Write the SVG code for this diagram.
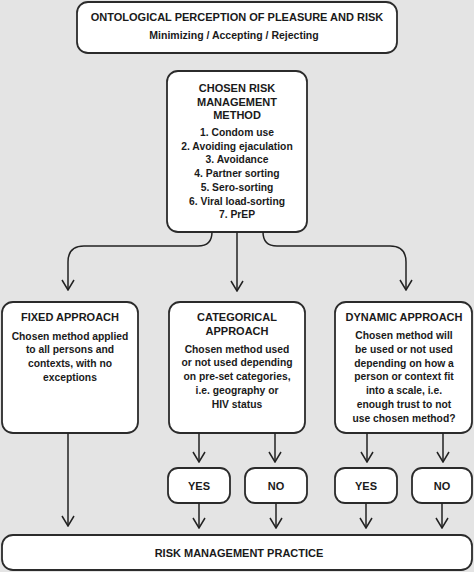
<svg xmlns="http://www.w3.org/2000/svg" width="474" height="572" viewBox="0 0 474 572">
<defs>
<marker id="arr" viewBox="0 0 12 14" refX="11" refY="7" markerWidth="12" markerHeight="14" markerUnits="userSpaceOnUse" orient="auto">
<path d="M1,1 L11,7 L1,13" fill="none" stroke="#222" stroke-width="1.5"/>
</marker>
<style>
.box{fill:#fff;stroke:#2b2b2b;stroke-width:1.8}
.hd{font-family:"Liberation Sans",Arial,sans-serif;font-weight:bold;font-size:11px;fill:#1a1a1a;text-anchor:middle}
.tx{font-family:"Liberation Sans",Arial,sans-serif;font-weight:bold;font-size:10.3px;fill:#1a1a1a;text-anchor:middle}
.ln{fill:none;stroke:#222;stroke-width:1.5;marker-end:url(#arr)}
</style>
</defs>
<rect width="474" height="572" fill="#e4e4e4"/>
<g id="top">
<rect class="box" x="77" y="2" width="320" height="51" rx="11"/>
<text class="hd" x="237" y="21">ONTOLOGICAL PERCEPTION OF PLEASURE AND RISK</text>
<text class="tx" x="234" y="39" style="font-size:10.5px">Minimizing / Accepting / Rejecting</text>
</g>
<g id="method">
<rect class="box" x="167" y="71" width="140" height="161" rx="11"/>
<text class="hd" x="237" y="92">CHOSEN RISK</text>
<text class="hd" x="237" y="105.5">MANAGEMENT</text>
<text class="hd" x="237" y="119">METHOD</text>
<text class="tx" x="237" y="136">1. Condom use</text>
<text class="tx" x="237" y="149.7">2. Avoiding ejaculation</text>
<text class="tx" x="237" y="163.4">3. Avoidance</text>
<text class="tx" x="237" y="177.1">4. Partner sorting</text>
<text class="tx" x="237" y="190.8">5. Sero-sorting</text>
<text class="tx" x="237" y="204.5">6. Viral load-sorting</text>
<text class="tx" x="237" y="218.2">7. PrEP</text>
</g>
<g id="fixed">
<rect class="box" x="2" y="302" width="136" height="131" rx="11"/>
<text class="hd" x="70" y="321">FIXED APPROACH</text>
<text class="tx" x="70" y="339.5">Chosen method applied</text>
<text class="tx" x="70" y="353.2">to all persons and</text>
<text class="tx" x="70" y="366.9">contexts, with no</text>
<text class="tx" x="70" y="380.6">exceptions</text>
</g>
<g id="categorical">
<rect class="box" x="169" y="302" width="136" height="131" rx="11"/>
<text class="hd" x="237" y="321">CATEGORICAL</text>
<text class="hd" x="237" y="334.5">APPROACH</text>
<text class="tx" x="237" y="352.7">Chosen method used</text>
<text class="tx" x="237" y="366.4">or not used depending</text>
<text class="tx" x="237" y="380.1">on pre-set categories,</text>
<text class="tx" x="237" y="393.8">i.e. geography or</text>
<text class="tx" x="237" y="407.5">HIV status</text>
</g>
<g id="dynamic">
<rect class="box" x="335" y="302" width="137" height="131" rx="11"/>
<text class="hd" x="404" y="321">DYNAMIC APPROACH</text>
<text class="tx" x="404" y="339.3">Chosen method will</text>
<text class="tx" x="404" y="353">be used or not used</text>
<text class="tx" x="404" y="366.7">depending on how a</text>
<text class="tx" x="404" y="380.4">person or context fit</text>
<text class="tx" x="404" y="394.1">into a scale, i.e.</text>
<text class="tx" x="404" y="407.8">enough trust to not</text>
<text class="tx" x="404" y="421.5">use chosen method?</text>
</g>
<g id="yes1">
<rect class="box" x="168" y="468" width="62" height="35" rx="10"/>
<text class="hd" x="199" y="490">YES</text>
</g>
<g id="no1">
<rect class="box" x="245" y="468" width="62" height="35" rx="10"/>
<text class="hd" x="276" y="490">NO</text>
</g>
<g id="yes2">
<rect class="box" x="335" y="468" width="62" height="35" rx="10"/>
<text class="hd" x="366" y="490">YES</text>
</g>
<g id="no2">
<rect class="box" x="412" y="468" width="60" height="35" rx="10"/>
<text class="hd" x="442" y="490">NO</text>
</g>
<g id="practice">
<rect class="box" x="2" y="535" width="470" height="35" rx="11"/>
<text class="hd" x="239" y="557">RISK MANAGEMENT PRACTICE</text>
</g>
<g id="connectors">
<path class="ln" d="M212,232 Q212,246 198,246 H84 Q68,246 68,262 V290"/>
<path class="ln" d="M237,232 V291"/>
<path class="ln" d="M263,232 Q263,246 277,246 H390 Q406,246 406,262 V290"/>
<path class="ln" d="M68,433 V526"/>
<path class="ln" d="M199,433 V462"/>
<path class="ln" d="M275,433 V462"/>
<path class="ln" d="M367,433 V462"/>
<path class="ln" d="M443,433 V462"/>
<path class="ln" d="M199,503 V528"/>
<path class="ln" d="M276,503 V528"/>
<path class="ln" d="M366,503 V528"/>
<path class="ln" d="M442,503 V528"/>
</g>
</svg>
